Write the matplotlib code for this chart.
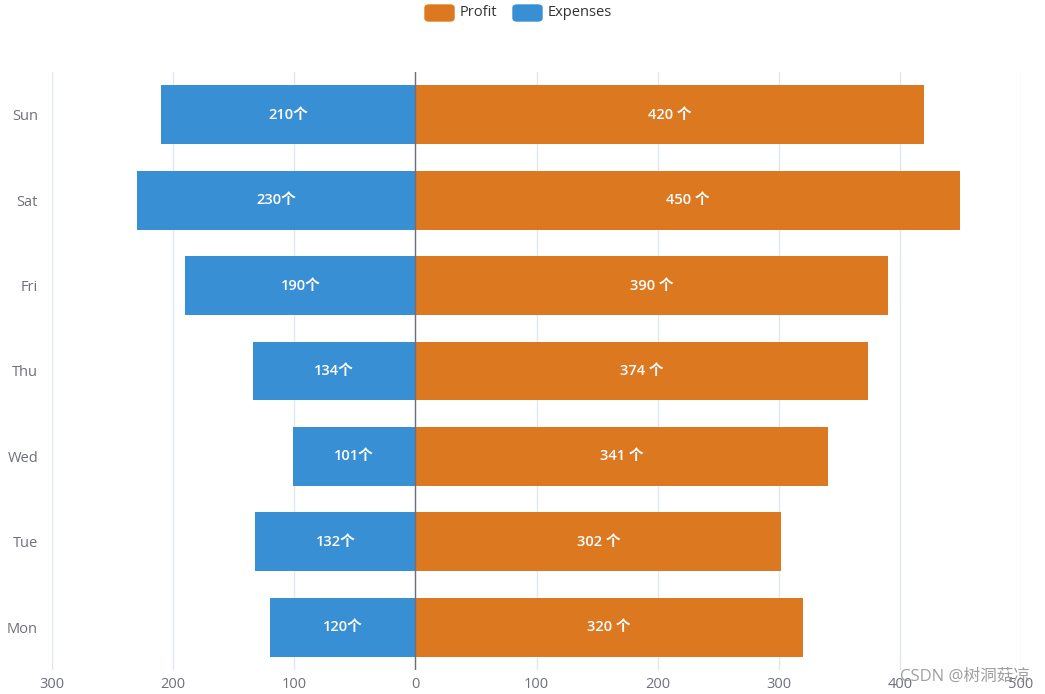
import numpy as np
import matplotlib
matplotlib.use('Agg')
import matplotlib.pyplot as plt
from matplotlib.patches import FancyBboxPatch
from matplotlib.ticker import FuncFormatter

plt.rcParams['font.family'] = ['Open Sans', 'Noto Sans CJK SC', 'DejaVu Sans']

days = ['Mon', 'Tue', 'Wed', 'Thu', 'Fri', 'Sat', 'Sun']
profit = [320, 302, 341, 374, 390, 450, 420]
expenses = [120, 132, 101, 134, 190, 230, 210]

orange = '#dc7820'
blue = '#398fd4'
grid_c = '#e0e6f1'
text_c = '#6e7079'

fig = plt.figure(figsize=(10.45, 6.94), dpi=100)
ax = fig.add_axes([52 / 1045, 1 - 670 / 694, (1021 - 52) / 1045, (670 - 72) / 694])

y = np.arange(len(days))
ax.barh(y, profit, height=0.69, color=orange, zorder=3)
ax.barh(y, -np.array(expenses), height=0.69, color=blue, zorder=3)

for i in range(len(days)):
    ax.text(profit[i] / 2, y[i], f'{profit[i]} 个', ha='center', va='center',
            color='white', fontsize=10.5, fontweight='semibold', zorder=4)
    ax.text(-expenses[i] / 2, y[i], f'{expenses[i]}个', ha='center', va='center',
            color='white', fontsize=10.5, fontweight='semibold', zorder=4)

ax.set_xlim(-300, 500)
ax.set_ylim(-0.5, len(days) - 0.5)
ax.set_xticks(np.arange(-300, 501, 100))
ax.xaxis.set_major_formatter(FuncFormatter(lambda v, p: f'{abs(int(v))}'))
ax.set_yticks(y)
ax.set_yticklabels(days)
ax.grid(axis='x', color=grid_c, linewidth=1, zorder=0)
ax.axvline(0, color='#6e7079', linewidth=1, zorder=5)
for s in ax.spines.values():
    s.set_visible(False)
ax.tick_params(axis='both', length=0, colors=text_c, labelsize=10.5)
ax.tick_params(axis='x', pad=5)
ax.tick_params(axis='y', pad=10)

# legend
for x0, col, lab in [(425, orange, 'Profit'), (513, blue, 'Expenses')]:
    fig.patches.append(FancyBboxPatch((x0 / 1045, 1 - 21 / 694), 29 / 1045, 16 / 694,
                                      boxstyle='round,pad=0,rounding_size=0.004',
                                      transform=fig.transFigure, color=col))
    fig.text((x0 + 35) / 1045, 1 - 13 / 694, lab, ha='left', va='center',
             fontsize=10.5, color='#333333')

fig.text(1030 / 1045, 1 - 677 / 694, 'CSDN @树洞菇凉', ha='right', va='center',
         fontsize=12, color='#888888', alpha=0.8)

fig.savefig('out.png', dpi=100)
